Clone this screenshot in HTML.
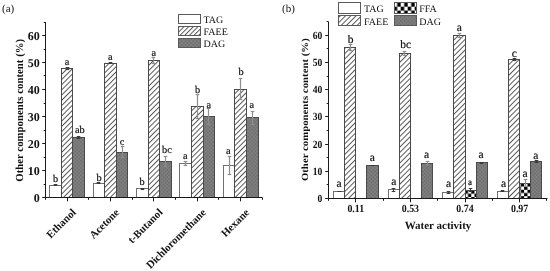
<!DOCTYPE html>
<html><head><meta charset="utf-8"><style>
html,body{margin:0;padding:0;background:#fff;}
body{width:550px;height:271px;overflow:hidden;}
svg{display:block;}
text{text-rendering:geometricPrecision;}
</style></head><body>
<svg width="550" height="271" viewBox="0 0 550 271" font-family="'Liberation Serif', 'Times New Roman', serif"><defs>
<pattern id="hatch" patternUnits="userSpaceOnUse" width="3.68" height="3.68" patternTransform="rotate(45)">
<rect width="3.68" height="3.68" fill="#fff"/><line x1="0.5" y1="0" x2="0.5" y2="3.68" stroke="#474747" stroke-width="0.9"/></pattern>
<pattern id="hatchLeg" patternUnits="userSpaceOnUse" width="3.3" height="3.3" patternTransform="rotate(45)">
<rect width="3.3" height="3.3" fill="#fff"/><line x1="0.5" y1="0" x2="0.5" y2="3.3" stroke="#474747" stroke-width="0.9"/></pattern>
<pattern id="hatchR" patternUnits="userSpaceOnUse" width="3.75" height="3.75" patternTransform="rotate(45)">
<rect width="3.75" height="3.75" fill="#fff"/><line x1="0.5" y1="0" x2="0.5" y2="3.75" stroke="#474747" stroke-width="0.9"/></pattern>
<pattern id="dag" patternUnits="userSpaceOnUse" width="2.6" height="2.6" patternTransform="rotate(45)">
<rect width="2.6" height="2.6" fill="#6f6f6f"/><rect width="2.6" height="0.7" fill="#838383"/><rect width="0.7" height="2.6" fill="#838383"/></pattern>
<pattern id="chk" patternUnits="userSpaceOnUse" width="6.7" height="6.4" x="517.4" y="183.4">
<rect width="6.7" height="6.4" fill="#fff"/><rect x="3.35" width="3.35" height="3.2" fill="#000"/><rect y="3.2" width="3.35" height="3.2" fill="#000"/></pattern>
<pattern id="chk74" patternUnits="userSpaceOnUse" width="6.5" height="6.6" x="464.75" y="190.4">
<rect width="6.5" height="6.6" fill="#fff"/><rect width="3.25" height="3.3" fill="#000"/><rect x="3.25" y="3.3" width="3.25" height="3.3" fill="#000"/></pattern>
<pattern id="chkL" patternUnits="userSpaceOnUse" width="7" height="7.8" x="393.7" y="2.8">
<rect width="7" height="7.8" fill="#fff"/><rect x="3.5" width="3.5" height="3.9" fill="#000"/><rect y="3.9" width="3.5" height="3.9" fill="#000"/></pattern>
</defs><rect x="49.50" y="185.50" width="12.00" height="12.00" fill="#fff" stroke="#707070" stroke-width="1"/>
<line x1="55.50" y1="184.50" x2="55.50" y2="185.50" stroke="#3a3a3a" stroke-width="1.0"/>
<line x1="53.70" y1="184.50" x2="57.30" y2="184.50" stroke="#3a3a3a" stroke-width="1.0"/>
<line x1="53.70" y1="185.50" x2="57.30" y2="185.50" stroke="#3a3a3a" stroke-width="1.0"/>
<rect x="61.50" y="68.50" width="11.00" height="129.00" fill="url(#hatch)" stroke="#4a4a4a" stroke-width="1"/>
<line x1="67.50" y1="67.50" x2="67.50" y2="69.50" stroke="#3a3a3a" stroke-width="1.0"/>
<line x1="65.70" y1="67.50" x2="69.30" y2="67.50" stroke="#3a3a3a" stroke-width="1.0"/>
<line x1="65.70" y1="69.50" x2="69.30" y2="69.50" stroke="#3a3a3a" stroke-width="1.0"/>
<rect x="72.50" y="137.50" width="12.00" height="60.00" fill="url(#dag)" stroke="#4a4a4a" stroke-width="1"/>
<line x1="78.50" y1="136.50" x2="78.50" y2="138.50" stroke="#3a3a3a" stroke-width="1.0"/>
<line x1="76.70" y1="136.50" x2="80.30" y2="136.50" stroke="#3a3a3a" stroke-width="1.0"/>
<line x1="76.70" y1="138.50" x2="80.30" y2="138.50" stroke="#3a3a3a" stroke-width="1.0"/>
<rect x="93.50" y="183.50" width="11.00" height="14.00" fill="#fff" stroke="#707070" stroke-width="1"/>
<line x1="98.50" y1="182.50" x2="98.50" y2="183.50" stroke="#3a3a3a" stroke-width="1.0"/>
<line x1="96.70" y1="182.50" x2="100.30" y2="182.50" stroke="#3a3a3a" stroke-width="1.0"/>
<line x1="96.70" y1="183.50" x2="100.30" y2="183.50" stroke="#3a3a3a" stroke-width="1.0"/>
<rect x="104.50" y="63.50" width="12.00" height="134.00" fill="url(#hatch)" stroke="#4a4a4a" stroke-width="1"/>
<line x1="110.50" y1="62.50" x2="110.50" y2="63.50" stroke="#3a3a3a" stroke-width="1.0"/>
<line x1="108.70" y1="62.50" x2="112.30" y2="62.50" stroke="#3a3a3a" stroke-width="1.0"/>
<line x1="108.70" y1="63.50" x2="112.30" y2="63.50" stroke="#3a3a3a" stroke-width="1.0"/>
<rect x="116.50" y="152.50" width="11.00" height="45.00" fill="url(#dag)" stroke="#4a4a4a" stroke-width="1"/>
<line x1="122.50" y1="146.50" x2="122.50" y2="157.50" stroke="#8e8e8e" stroke-width="1.2"/>
<line x1="120.70" y1="146.50" x2="124.30" y2="146.50" stroke="#8e8e8e" stroke-width="1.2"/>
<line x1="120.70" y1="157.50" x2="124.30" y2="157.50" stroke="#8e8e8e" stroke-width="1.2"/>
<rect x="136.50" y="188.50" width="12.00" height="9.00" fill="#fff" stroke="#707070" stroke-width="1"/>
<line x1="142.50" y1="188.50" x2="142.50" y2="189.50" stroke="#3a3a3a" stroke-width="1.0"/>
<line x1="140.70" y1="188.50" x2="144.30" y2="188.50" stroke="#3a3a3a" stroke-width="1.0"/>
<line x1="140.70" y1="189.50" x2="144.30" y2="189.50" stroke="#3a3a3a" stroke-width="1.0"/>
<rect x="148.50" y="60.50" width="11.00" height="137.00" fill="url(#hatch)" stroke="#4a4a4a" stroke-width="1"/>
<line x1="153.50" y1="57.50" x2="153.50" y2="63.50" stroke="#8e8e8e" stroke-width="1.2"/>
<line x1="151.70" y1="57.50" x2="155.30" y2="57.50" stroke="#8e8e8e" stroke-width="1.2"/>
<line x1="151.70" y1="63.50" x2="155.30" y2="63.50" stroke="#8e8e8e" stroke-width="1.2"/>
<rect x="159.50" y="161.50" width="12.00" height="36.00" fill="url(#dag)" stroke="#4a4a4a" stroke-width="1"/>
<line x1="165.50" y1="156.50" x2="165.50" y2="166.50" stroke="#8e8e8e" stroke-width="1.2"/>
<line x1="163.70" y1="156.50" x2="167.30" y2="156.50" stroke="#8e8e8e" stroke-width="1.2"/>
<line x1="163.70" y1="166.50" x2="167.30" y2="166.50" stroke="#8e8e8e" stroke-width="1.2"/>
<rect x="179.50" y="163.50" width="12.00" height="34.00" fill="#fff" stroke="#707070" stroke-width="1"/>
<line x1="185.50" y1="161.50" x2="185.50" y2="165.50" stroke="#8e8e8e" stroke-width="1.2"/>
<line x1="183.70" y1="161.50" x2="187.30" y2="161.50" stroke="#8e8e8e" stroke-width="1.2"/>
<line x1="183.70" y1="165.50" x2="187.30" y2="165.50" stroke="#8e8e8e" stroke-width="1.2"/>
<rect x="191.50" y="106.50" width="12.00" height="91.00" fill="url(#hatch)" stroke="#4a4a4a" stroke-width="1"/>
<line x1="197.50" y1="94.50" x2="197.50" y2="118.50" stroke="#8e8e8e" stroke-width="1.2"/>
<line x1="195.70" y1="94.50" x2="199.30" y2="94.50" stroke="#8e8e8e" stroke-width="1.2"/>
<line x1="195.70" y1="118.50" x2="199.30" y2="118.50" stroke="#8e8e8e" stroke-width="1.2"/>
<rect x="203.50" y="116.50" width="11.00" height="81.00" fill="url(#dag)" stroke="#4a4a4a" stroke-width="1"/>
<line x1="208.50" y1="108.50" x2="208.50" y2="124.50" stroke="#8e8e8e" stroke-width="1.2"/>
<line x1="206.70" y1="108.50" x2="210.30" y2="108.50" stroke="#8e8e8e" stroke-width="1.2"/>
<line x1="206.70" y1="124.50" x2="210.30" y2="124.50" stroke="#8e8e8e" stroke-width="1.2"/>
<rect x="223.50" y="165.50" width="11.00" height="32.00" fill="#fff" stroke="#707070" stroke-width="1"/>
<line x1="229.50" y1="156.50" x2="229.50" y2="174.50" stroke="#8e8e8e" stroke-width="1.2"/>
<line x1="227.70" y1="156.50" x2="231.30" y2="156.50" stroke="#8e8e8e" stroke-width="1.2"/>
<line x1="227.70" y1="174.50" x2="231.30" y2="174.50" stroke="#8e8e8e" stroke-width="1.2"/>
<rect x="234.50" y="89.50" width="12.00" height="108.00" fill="url(#hatch)" stroke="#4a4a4a" stroke-width="1"/>
<line x1="240.50" y1="78.50" x2="240.50" y2="99.50" stroke="#8e8e8e" stroke-width="1.2"/>
<line x1="238.70" y1="78.50" x2="242.30" y2="78.50" stroke="#8e8e8e" stroke-width="1.2"/>
<line x1="238.70" y1="99.50" x2="242.30" y2="99.50" stroke="#8e8e8e" stroke-width="1.2"/>
<rect x="246.50" y="117.50" width="12.00" height="80.00" fill="url(#dag)" stroke="#4a4a4a" stroke-width="1"/>
<line x1="252.50" y1="111.50" x2="252.50" y2="124.50" stroke="#8e8e8e" stroke-width="1.2"/>
<line x1="250.70" y1="111.50" x2="254.30" y2="111.50" stroke="#8e8e8e" stroke-width="1.2"/>
<line x1="250.70" y1="124.50" x2="254.30" y2="124.50" stroke="#8e8e8e" stroke-width="1.2"/>
<text x="55.65" y="182.40" font-size="10.3" font-weight="normal" text-anchor="middle" fill="#111" stroke="#111" stroke-width="0.2">b</text>
<text x="67.15" y="64.60" font-size="10.3" font-weight="normal" text-anchor="middle" fill="#111" stroke="#111" stroke-width="0.2">a</text>
<text x="79.80" y="132.60" font-size="10.3" font-weight="normal" text-anchor="middle" fill="#111" stroke="#111" stroke-width="0.2">ab</text>
<text x="99.20" y="181.10" font-size="10.3" font-weight="normal" text-anchor="middle" fill="#111" stroke="#111" stroke-width="0.2">b</text>
<text x="110.40" y="59.50" font-size="10.3" font-weight="normal" text-anchor="middle" fill="#111" stroke="#111" stroke-width="0.2">a</text>
<text x="122.15" y="144.60" font-size="10.3" font-weight="normal" text-anchor="middle" fill="#111" stroke="#111" stroke-width="0.2">c</text>
<text x="142.15" y="184.50" font-size="10.3" font-weight="normal" text-anchor="middle" fill="#111" stroke="#111" stroke-width="0.2">b</text>
<text x="153.70" y="55.60" font-size="10.3" font-weight="normal" text-anchor="middle" fill="#111" stroke="#111" stroke-width="0.2">a</text>
<text x="166.90" y="152.60" font-size="10.3" font-weight="normal" text-anchor="middle" fill="#111" stroke="#111" stroke-width="0.2">bc</text>
<text x="185.35" y="158.70" font-size="10.3" font-weight="normal" text-anchor="middle" fill="#111" stroke="#111" stroke-width="0.2">a</text>
<text x="197.70" y="92.90" font-size="10.3" font-weight="normal" text-anchor="middle" fill="#111" stroke="#111" stroke-width="0.2">b</text>
<text x="208.85" y="108.00" font-size="10.3" font-weight="normal" text-anchor="middle" fill="#111" stroke="#111" stroke-width="0.2">a</text>
<text x="228.30" y="153.70" font-size="10.3" font-weight="normal" text-anchor="middle" fill="#111" stroke="#111" stroke-width="0.2">a</text>
<text x="241.00" y="74.60" font-size="10.3" font-weight="normal" text-anchor="middle" fill="#111" stroke="#111" stroke-width="0.2">b</text>
<text x="251.85" y="107.60" font-size="10.3" font-weight="normal" text-anchor="middle" fill="#111" stroke="#111" stroke-width="0.2">a</text>
<line x1="45.00" y1="197.50" x2="262.30" y2="197.50" stroke="#1a1a1a" stroke-width="1"/>
<line x1="45.50" y1="198.50" x2="45.50" y2="22.00" stroke="#1a1a1a" stroke-width="1"/>
<line x1="42.20" y1="197.50" x2="45.50" y2="197.50" stroke="#1a1a1a" stroke-width="1"/>
<text x="39.70" y="201.60" font-size="12" font-weight="bold" text-anchor="end" fill="#111" >0</text>
<line x1="43.70" y1="184.50" x2="45.50" y2="184.50" stroke="#1a1a1a" stroke-width="1"/>
<line x1="42.20" y1="170.50" x2="45.50" y2="170.50" stroke="#1a1a1a" stroke-width="1"/>
<text x="39.70" y="174.60" font-size="12" font-weight="bold" text-anchor="end" fill="#111" >10</text>
<line x1="43.70" y1="157.50" x2="45.50" y2="157.50" stroke="#1a1a1a" stroke-width="1"/>
<line x1="42.20" y1="143.50" x2="45.50" y2="143.50" stroke="#1a1a1a" stroke-width="1"/>
<text x="39.70" y="147.60" font-size="12" font-weight="bold" text-anchor="end" fill="#111" >20</text>
<line x1="43.70" y1="130.50" x2="45.50" y2="130.50" stroke="#1a1a1a" stroke-width="1"/>
<line x1="42.20" y1="116.50" x2="45.50" y2="116.50" stroke="#1a1a1a" stroke-width="1"/>
<text x="39.70" y="120.60" font-size="12" font-weight="bold" text-anchor="end" fill="#111" >30</text>
<line x1="43.70" y1="103.50" x2="45.50" y2="103.50" stroke="#1a1a1a" stroke-width="1"/>
<line x1="42.20" y1="89.50" x2="45.50" y2="89.50" stroke="#1a1a1a" stroke-width="1"/>
<text x="39.70" y="93.60" font-size="12" font-weight="bold" text-anchor="end" fill="#111" >40</text>
<line x1="43.70" y1="75.50" x2="45.50" y2="75.50" stroke="#1a1a1a" stroke-width="1"/>
<line x1="42.20" y1="62.50" x2="45.50" y2="62.50" stroke="#1a1a1a" stroke-width="1"/>
<text x="39.70" y="66.60" font-size="12" font-weight="bold" text-anchor="end" fill="#111" >50</text>
<line x1="43.70" y1="49.50" x2="45.50" y2="49.50" stroke="#1a1a1a" stroke-width="1"/>
<line x1="42.20" y1="35.50" x2="45.50" y2="35.50" stroke="#1a1a1a" stroke-width="1"/>
<text x="39.70" y="39.60" font-size="12" font-weight="bold" text-anchor="end" fill="#111" >60</text>
<line x1="43.70" y1="22.50" x2="45.50" y2="22.50" stroke="#1a1a1a" stroke-width="1"/>
<line x1="45.50" y1="197.50" x2="45.50" y2="199.80" stroke="#1a1a1a" stroke-width="1"/>
<line x1="67.50" y1="197.50" x2="67.50" y2="201.30" stroke="#1a1a1a" stroke-width="1"/>
<line x1="88.50" y1="197.50" x2="88.50" y2="199.80" stroke="#1a1a1a" stroke-width="1"/>
<line x1="110.50" y1="197.50" x2="110.50" y2="201.30" stroke="#1a1a1a" stroke-width="1"/>
<line x1="132.50" y1="197.50" x2="132.50" y2="199.80" stroke="#1a1a1a" stroke-width="1"/>
<line x1="153.50" y1="197.50" x2="153.50" y2="201.30" stroke="#1a1a1a" stroke-width="1"/>
<line x1="175.50" y1="197.50" x2="175.50" y2="199.80" stroke="#1a1a1a" stroke-width="1"/>
<line x1="197.50" y1="197.50" x2="197.50" y2="201.30" stroke="#1a1a1a" stroke-width="1"/>
<line x1="218.50" y1="197.50" x2="218.50" y2="199.80" stroke="#1a1a1a" stroke-width="1"/>
<line x1="240.50" y1="197.50" x2="240.50" y2="201.30" stroke="#1a1a1a" stroke-width="1"/>
<line x1="262.50" y1="197.50" x2="262.50" y2="199.80" stroke="#1a1a1a" stroke-width="1"/>
<text transform="translate(23.00,110.30) scale(1,1) rotate(-90)" font-size="10.8" font-weight="bold" text-anchor="middle" fill="#111">Other components content (%)</text>
<rect x="333.50" y="191.50" width="11.00" height="7.00" fill="#fff" stroke="#707070" stroke-width="1"/>
<line x1="339.50" y1="191.50" x2="339.50" y2="191.50" stroke="#3a3a3a" stroke-width="1.0"/>
<line x1="337.70" y1="191.50" x2="341.30" y2="191.50" stroke="#3a3a3a" stroke-width="1.0"/>
<line x1="337.70" y1="191.50" x2="341.30" y2="191.50" stroke="#3a3a3a" stroke-width="1.0"/>
<rect x="344.50" y="47.50" width="11.00" height="151.00" fill="url(#hatchR)" stroke="#4a4a4a" stroke-width="1"/>
<line x1="350.50" y1="44.50" x2="350.50" y2="50.50" stroke="#8e8e8e" stroke-width="1.2"/>
<line x1="348.70" y1="44.50" x2="352.30" y2="44.50" stroke="#8e8e8e" stroke-width="1.2"/>
<line x1="348.70" y1="50.50" x2="352.30" y2="50.50" stroke="#8e8e8e" stroke-width="1.2"/>
<rect x="366.50" y="165.50" width="12.00" height="33.00" fill="url(#dag)" stroke="#4a4a4a" stroke-width="1"/>
<line x1="372.50" y1="165.50" x2="372.50" y2="165.50" stroke="#3a3a3a" stroke-width="1.0"/>
<line x1="370.70" y1="165.50" x2="374.30" y2="165.50" stroke="#3a3a3a" stroke-width="1.0"/>
<line x1="370.70" y1="165.50" x2="374.30" y2="165.50" stroke="#3a3a3a" stroke-width="1.0"/>
<rect x="388.50" y="189.50" width="11.00" height="9.00" fill="#fff" stroke="#707070" stroke-width="1"/>
<line x1="393.50" y1="188.50" x2="393.50" y2="191.50" stroke="#3a3a3a" stroke-width="1.0"/>
<line x1="391.70" y1="188.50" x2="395.30" y2="188.50" stroke="#3a3a3a" stroke-width="1.0"/>
<line x1="391.70" y1="191.50" x2="395.30" y2="191.50" stroke="#3a3a3a" stroke-width="1.0"/>
<rect x="399.50" y="53.50" width="11.00" height="145.00" fill="url(#hatchR)" stroke="#4a4a4a" stroke-width="1"/>
<line x1="404.50" y1="51.50" x2="404.50" y2="55.50" stroke="#8e8e8e" stroke-width="1.2"/>
<line x1="402.70" y1="51.50" x2="406.30" y2="51.50" stroke="#8e8e8e" stroke-width="1.2"/>
<line x1="402.70" y1="55.50" x2="406.30" y2="55.50" stroke="#8e8e8e" stroke-width="1.2"/>
<rect x="421.50" y="163.50" width="11.00" height="35.00" fill="url(#dag)" stroke="#4a4a4a" stroke-width="1"/>
<line x1="427.50" y1="161.50" x2="427.50" y2="164.50" stroke="#8e8e8e" stroke-width="1.2"/>
<line x1="425.70" y1="161.50" x2="429.30" y2="161.50" stroke="#8e8e8e" stroke-width="1.2"/>
<line x1="425.70" y1="164.50" x2="429.30" y2="164.50" stroke="#8e8e8e" stroke-width="1.2"/>
<rect x="442.50" y="192.50" width="11.00" height="6.00" fill="#fff" stroke="#707070" stroke-width="1"/>
<line x1="448.50" y1="191.50" x2="448.50" y2="193.50" stroke="#3a3a3a" stroke-width="1.0"/>
<line x1="446.70" y1="191.50" x2="450.30" y2="191.50" stroke="#3a3a3a" stroke-width="1.0"/>
<line x1="446.70" y1="193.50" x2="450.30" y2="193.50" stroke="#3a3a3a" stroke-width="1.0"/>
<rect x="453.50" y="35.50" width="12.00" height="163.00" fill="url(#hatchR)" stroke="#4a4a4a" stroke-width="1"/>
<line x1="459.50" y1="33.50" x2="459.50" y2="37.50" stroke="#8e8e8e" stroke-width="1.2"/>
<line x1="457.70" y1="33.50" x2="461.30" y2="33.50" stroke="#8e8e8e" stroke-width="1.2"/>
<line x1="457.70" y1="37.50" x2="461.30" y2="37.50" stroke="#8e8e8e" stroke-width="1.2"/>
<rect x="465.50" y="190.50" width="11.00" height="8.00" fill="url(#chk74)" stroke="#4a4a4a" stroke-width="1"/>
<line x1="470.50" y1="188.50" x2="470.50" y2="191.50" stroke="#3a3a3a" stroke-width="1.0"/>
<line x1="468.70" y1="188.50" x2="472.30" y2="188.50" stroke="#3a3a3a" stroke-width="1.0"/>
<line x1="468.70" y1="191.50" x2="472.30" y2="191.50" stroke="#3a3a3a" stroke-width="1.0"/>
<rect x="476.50" y="162.50" width="11.00" height="36.00" fill="url(#dag)" stroke="#4a4a4a" stroke-width="1"/>
<line x1="481.50" y1="162.50" x2="481.50" y2="163.50" stroke="#3a3a3a" stroke-width="1.0"/>
<line x1="479.70" y1="162.50" x2="483.30" y2="162.50" stroke="#3a3a3a" stroke-width="1.0"/>
<line x1="479.70" y1="163.50" x2="483.30" y2="163.50" stroke="#3a3a3a" stroke-width="1.0"/>
<rect x="497.50" y="191.50" width="11.00" height="7.00" fill="#fff" stroke="#707070" stroke-width="1"/>
<line x1="502.50" y1="190.50" x2="502.50" y2="191.50" stroke="#3a3a3a" stroke-width="1.0"/>
<line x1="500.70" y1="190.50" x2="504.30" y2="190.50" stroke="#3a3a3a" stroke-width="1.0"/>
<line x1="500.70" y1="191.50" x2="504.30" y2="191.50" stroke="#3a3a3a" stroke-width="1.0"/>
<rect x="508.50" y="59.50" width="11.00" height="139.00" fill="url(#hatchR)" stroke="#4a4a4a" stroke-width="1"/>
<line x1="514.50" y1="58.50" x2="514.50" y2="60.50" stroke="#3a3a3a" stroke-width="1.0"/>
<line x1="512.70" y1="58.50" x2="516.30" y2="58.50" stroke="#3a3a3a" stroke-width="1.0"/>
<line x1="512.70" y1="60.50" x2="516.30" y2="60.50" stroke="#3a3a3a" stroke-width="1.0"/>
<rect x="519.50" y="183.50" width="11.00" height="15.00" fill="url(#chk)" stroke="#4a4a4a" stroke-width="1"/>
<line x1="525.50" y1="179.50" x2="525.50" y2="186.50" stroke="#8e8e8e" stroke-width="1.2"/>
<line x1="523.70" y1="179.50" x2="527.30" y2="179.50" stroke="#8e8e8e" stroke-width="1.2"/>
<line x1="523.70" y1="186.50" x2="527.30" y2="186.50" stroke="#8e8e8e" stroke-width="1.2"/>
<rect x="530.50" y="161.50" width="11.00" height="37.00" fill="url(#dag)" stroke="#4a4a4a" stroke-width="1"/>
<line x1="536.50" y1="160.50" x2="536.50" y2="162.50" stroke="#3a3a3a" stroke-width="1.0"/>
<line x1="534.70" y1="160.50" x2="538.30" y2="160.50" stroke="#3a3a3a" stroke-width="1.0"/>
<line x1="534.70" y1="162.50" x2="538.30" y2="162.50" stroke="#3a3a3a" stroke-width="1.0"/>
<text x="339.10" y="186.70" font-size="11.5" font-weight="normal" text-anchor="middle" fill="#111" stroke="#111" stroke-width="0.2">a</text>
<text x="350.70" y="43.00" font-size="11.5" font-weight="normal" text-anchor="middle" fill="#111" stroke="#111" stroke-width="0.2">b</text>
<text x="372.40" y="161.40" font-size="11.5" font-weight="normal" text-anchor="middle" fill="#111" stroke="#111" stroke-width="0.2">a</text>
<text x="393.70" y="184.50" font-size="11.5" font-weight="normal" text-anchor="middle" fill="#111" stroke="#111" stroke-width="0.2">a</text>
<text x="405.65" y="48.10" font-size="11.5" font-weight="normal" text-anchor="middle" fill="#111" stroke="#111" stroke-width="0.2">bc</text>
<text x="426.55" y="157.80" font-size="11.5" font-weight="normal" text-anchor="middle" fill="#111" stroke="#111" stroke-width="0.2">a</text>
<text x="448.45" y="186.50" font-size="11.5" font-weight="normal" text-anchor="middle" fill="#111" stroke="#111" stroke-width="0.2">a</text>
<text x="459.20" y="30.50" font-size="11.5" font-weight="normal" text-anchor="middle" fill="#111" stroke="#111" stroke-width="0.2">a</text>
<text x="470.00" y="184.90" font-size="9" font-weight="normal" text-anchor="middle" fill="#111" stroke="#111" stroke-width="0.2">a</text>
<text x="480.95" y="157.60" font-size="11.5" font-weight="normal" text-anchor="middle" fill="#111" stroke="#111" stroke-width="0.2">a</text>
<text x="503.60" y="186.80" font-size="11.5" font-weight="normal" text-anchor="middle" fill="#111" stroke="#111" stroke-width="0.2">a</text>
<text x="514.40" y="56.70" font-size="11.5" font-weight="normal" text-anchor="middle" fill="#111" stroke="#111" stroke-width="0.2">c</text>
<text x="525.00" y="176.60" font-size="11.5" font-weight="normal" text-anchor="middle" fill="#111" stroke="#111" stroke-width="0.2">a</text>
<text x="535.80" y="158.80" font-size="11.5" font-weight="normal" text-anchor="middle" fill="#111" stroke="#111" stroke-width="0.2">a</text>
<line x1="328.00" y1="198.50" x2="547.50" y2="198.50" stroke="#1a1a1a" stroke-width="1"/>
<line x1="328.50" y1="199.50" x2="328.50" y2="21.70" stroke="#1a1a1a" stroke-width="1"/>
<line x1="325.20" y1="198.50" x2="328.50" y2="198.50" stroke="#1a1a1a" stroke-width="1"/>
<text transform="translate(322.30,201.90) scale(0.87,1)" font-size="11" font-weight="bold" text-anchor="end" fill="#111" >0</text>
<line x1="326.70" y1="184.50" x2="328.50" y2="184.50" stroke="#1a1a1a" stroke-width="1"/>
<line x1="325.20" y1="171.50" x2="328.50" y2="171.50" stroke="#1a1a1a" stroke-width="1"/>
<text transform="translate(322.30,174.90) scale(0.87,1)" font-size="11" font-weight="bold" text-anchor="end" fill="#111" >10</text>
<line x1="326.70" y1="157.50" x2="328.50" y2="157.50" stroke="#1a1a1a" stroke-width="1"/>
<line x1="325.20" y1="144.50" x2="328.50" y2="144.50" stroke="#1a1a1a" stroke-width="1"/>
<text transform="translate(322.30,147.90) scale(0.87,1)" font-size="11" font-weight="bold" text-anchor="end" fill="#111" >20</text>
<line x1="326.70" y1="130.50" x2="328.50" y2="130.50" stroke="#1a1a1a" stroke-width="1"/>
<line x1="325.20" y1="116.50" x2="328.50" y2="116.50" stroke="#1a1a1a" stroke-width="1"/>
<text transform="translate(322.30,119.90) scale(0.87,1)" font-size="11" font-weight="bold" text-anchor="end" fill="#111" >30</text>
<line x1="326.70" y1="103.50" x2="328.50" y2="103.50" stroke="#1a1a1a" stroke-width="1"/>
<line x1="325.20" y1="89.50" x2="328.50" y2="89.50" stroke="#1a1a1a" stroke-width="1"/>
<text transform="translate(322.30,92.90) scale(0.87,1)" font-size="11" font-weight="bold" text-anchor="end" fill="#111" >40</text>
<line x1="326.70" y1="76.50" x2="328.50" y2="76.50" stroke="#1a1a1a" stroke-width="1"/>
<line x1="325.20" y1="62.50" x2="328.50" y2="62.50" stroke="#1a1a1a" stroke-width="1"/>
<text transform="translate(322.30,65.90) scale(0.87,1)" font-size="11" font-weight="bold" text-anchor="end" fill="#111" >50</text>
<line x1="326.70" y1="48.50" x2="328.50" y2="48.50" stroke="#1a1a1a" stroke-width="1"/>
<line x1="325.20" y1="35.50" x2="328.50" y2="35.50" stroke="#1a1a1a" stroke-width="1"/>
<text transform="translate(322.30,38.90) scale(0.87,1)" font-size="11" font-weight="bold" text-anchor="end" fill="#111" >60</text>
<line x1="326.70" y1="21.50" x2="328.50" y2="21.50" stroke="#1a1a1a" stroke-width="1"/>
<line x1="328.50" y1="198.50" x2="328.50" y2="200.80" stroke="#1a1a1a" stroke-width="1"/>
<line x1="355.50" y1="198.50" x2="355.50" y2="202.30" stroke="#1a1a1a" stroke-width="1"/>
<line x1="383.50" y1="198.50" x2="383.50" y2="200.80" stroke="#1a1a1a" stroke-width="1"/>
<line x1="410.50" y1="198.50" x2="410.50" y2="202.30" stroke="#1a1a1a" stroke-width="1"/>
<line x1="437.50" y1="198.50" x2="437.50" y2="200.80" stroke="#1a1a1a" stroke-width="1"/>
<line x1="465.50" y1="198.50" x2="465.50" y2="202.30" stroke="#1a1a1a" stroke-width="1"/>
<line x1="492.50" y1="198.50" x2="492.50" y2="200.80" stroke="#1a1a1a" stroke-width="1"/>
<line x1="519.50" y1="198.50" x2="519.50" y2="202.30" stroke="#1a1a1a" stroke-width="1"/>
<line x1="546.50" y1="198.50" x2="546.50" y2="200.80" stroke="#1a1a1a" stroke-width="1"/>
<text transform="translate(308.20,109.70) scale(0.87,1) rotate(-90)" font-size="10.8" font-weight="bold" text-anchor="middle" fill="#111">Other components content (%)</text>
<text transform="translate(76.58,213.00) rotate(-45)" font-size="10.8" font-weight="bold" text-anchor="end" fill="#111">Ethanol</text>
<text transform="translate(119.94,213.00) rotate(-45)" font-size="10.8" font-weight="bold" text-anchor="end" fill="#111">Acetone</text>
<text transform="translate(163.30,213.00) rotate(-45)" font-size="10.8" font-weight="bold" text-anchor="end" fill="#111">t-Butanol</text>
<text transform="translate(206.66,213.00) rotate(-45)" font-size="10.8" font-weight="bold" text-anchor="end" fill="#111">Dichloromethane</text>
<text transform="translate(250.02,213.00) rotate(-45)" font-size="10.8" font-weight="bold" text-anchor="end" fill="#111">Hexane</text>
<text transform="translate(355.80,212.00) scale(0.9,1)" font-size="11" font-weight="bold" text-anchor="middle" fill="#111" >0.11</text>
<text transform="translate(410.40,212.00) scale(0.9,1)" font-size="11" font-weight="bold" text-anchor="middle" fill="#111" >0.53</text>
<text transform="translate(465.00,212.00) scale(0.9,1)" font-size="11" font-weight="bold" text-anchor="middle" fill="#111" >0.74</text>
<text transform="translate(519.60,212.00) scale(0.9,1)" font-size="11" font-weight="bold" text-anchor="middle" fill="#111" >0.97</text>
<text x="438.00" y="229.30" font-size="11" font-weight="bold" text-anchor="middle" fill="#111" >Water activity</text>
<text x="2.00" y="11.60" font-size="11" font-weight="normal" text-anchor="start" fill="#111" >(a)</text>
<text x="282.00" y="11.60" font-size="11" font-weight="normal" text-anchor="start" fill="#111" >(b)</text>
<rect x="178.50" y="14.50" width="22.00" height="9.00" fill="#fff" stroke="#5a5a5a" stroke-width="1"/>
<text x="203.50" y="22.70" font-size="10" font-weight="normal" text-anchor="start" fill="#111" >TAG</text>
<rect x="178.50" y="26.50" width="22.00" height="9.00" fill="url(#hatchLeg)" stroke="#5a5a5a" stroke-width="1"/>
<text x="203.50" y="34.70" font-size="10" font-weight="normal" text-anchor="start" fill="#111" >FAEE</text>
<rect x="178.50" y="38.50" width="22.00" height="9.00" fill="url(#dag)" stroke="#5a5a5a" stroke-width="1"/>
<text x="203.50" y="46.70" font-size="10" font-weight="normal" text-anchor="start" fill="#111" >DAG</text>
<rect x="338.50" y="2.50" width="22.00" height="11.00" fill="#fff" stroke="#5a5a5a" stroke-width="1"/>
<text x="364.00" y="11.70" font-size="10" font-weight="normal" text-anchor="start" fill="#111" >TAG</text>
<rect x="338.50" y="15.50" width="22.00" height="10.00" fill="url(#hatchR)" stroke="#5a5a5a" stroke-width="1"/>
<text x="364.00" y="24.70" font-size="10" font-weight="normal" text-anchor="start" fill="#111" >FAEE</text>
<rect x="394.50" y="2.50" width="22.00" height="11.00" fill="url(#chkL)" stroke="#5a5a5a" stroke-width="1"/>
<text x="419.20" y="11.70" font-size="10" font-weight="normal" text-anchor="start" fill="#111" >FFA</text>
<rect x="394.50" y="15.50" width="22.00" height="10.00" fill="url(#dag)" stroke="#5a5a5a" stroke-width="1"/>
<text x="419.20" y="24.70" font-size="10" font-weight="normal" text-anchor="start" fill="#111" >DAG</text></svg>
</body></html>
